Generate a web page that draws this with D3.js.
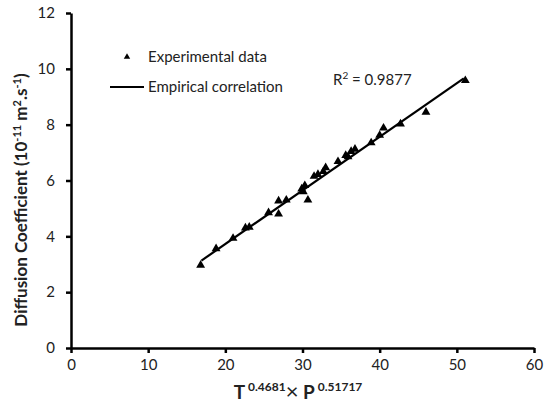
<!DOCTYPE html>
<html>
<head>
<meta charset="utf-8">
<script src="https://cdn.jsdelivr.net/npm/d3@7"></script>
<style>
  body { margin: 0; background: #fff; }
  svg { display: block; }
  .axis text { font-family: Lato, "Open Sans", sans-serif; font-size: 15px; fill: #222; }
  .axis path, .axis line { stroke: #000; stroke-width: 2.5px; }
  .lbl { font-family: Lato, "Open Sans", sans-serif; fill: #222; }
</style>
</head>
<body>
<svg width="550" height="406"></svg>
<script>
// experimental points
let xVals = [16.8, 18.8, 21.0, 22.6, 23.1, 25.6, 26.9, 26.9, 27.9, 29.9, 30.1, 30.3, 30.7,
             31.5, 32.0, 32.7, 33.0, 34.6, 35.6, 35.9, 36.3, 36.8, 38.9, 40.0, 40.5, 42.7, 46.0, 51.1];
let yVals = [2.97, 3.56, 3.93, 4.30, 4.33, 4.85, 4.80, 5.27, 5.30, 5.70, 5.60, 5.82, 5.30,
             6.15, 6.22, 6.32, 6.46, 6.68, 6.90, 6.85, 7.04, 7.12, 7.35, 7.62, 7.88, 8.03, 8.45, 9.58];

// empirical correlation line end points
let fitX = [16.9, 50.9];
let fitY = [3.13, 9.66];

let xTicks = [0, 10, 20, 30, 40, 50, 60];
let yTicks = [0, 2, 4, 6, 8, 10, 12];

let svg = d3.select('svg');
let x = d3.scaleLinear().domain([0, 60]).range([71, 534]);
let y = d3.scaleLinear().domain([0, 12]).range([348, 13]);

// axes
svg.append('g').attr('class', 'axis')
  .attr('transform', 'translate(0,348)')
  .call(d3.axisBottom(x).tickValues(xTicks).tickSize(5).tickSizeOuter(0).tickPadding(6));

svg.append('g').attr('class', 'axis')
  .attr('transform', 'translate(71,0)')
  .call(d3.axisLeft(y).tickValues(yTicks).tickSize(5).tickSizeOuter(0).tickPadding(11));

// fit line
svg.append('line')
  .attr('x1', x(fitX[0])).attr('y1', y(fitY[0]))
  .attr('x2', x(fitX[1])).attr('y2', y(fitY[1]))
  .attr('stroke', '#000').attr('stroke-width', 2.2);

// points
let tri = d3.symbol().type(d3.symbolTriangle).size(34);
svg.selectAll('path.pt').data(xVals).enter().append('path')
  .attr('class', 'pt')
  .attr('d', tri)
  .attr('transform', function(d, i) {
    return 'translate(' + x(d) + ',' + y(yVals[i]) + ')';
  })
  .attr('fill', '#000');

// legend
svg.append('path').attr('d', d3.symbol().type(d3.symbolTriangle).size(18))
  .attr('transform', 'translate(127,57)').attr('fill', '#000');
svg.append('text').attr('class', 'lbl').attr('x', 148).attr('y', 62)
  .style('font-size', '15px').text('Experimental data');
svg.append('line').attr('x1', 110).attr('x2', 144).attr('y1', 87).attr('y2', 87)
  .attr('stroke', '#000').attr('stroke-width', 2.2);
svg.append('text').attr('class', 'lbl').attr('x', 148).attr('y', 92)
  .style('font-size', '15px').text('Empirical correlation');

// R squared
let r2 = svg.append('text').attr('class', 'lbl').attr('x', 333).attr('y', 85)
  .style('font-size', '15px');
r2.append('tspan').text('R');
r2.append('tspan').attr('dy', -6).style('font-size', '10px').text('2');
r2.append('tspan').attr('dy', 6).text(' = 0.9877');

// x title
let xt = svg.append('text').attr('class', 'lbl')
  .attr('x', 298).attr('y', 399).attr('text-anchor', 'middle')
  .style('font-weight', 'bold').style('font-size', '19px');
xt.append('tspan').text('T');
xt.append('tspan').attr('dy', -8).style('font-size', '12px').text(' 0.4681');
xt.append('tspan').attr('dy', 8).style('font-weight', 'normal').style('font-size', '22px').text('\u00d7');
xt.append('tspan').text(' P');
xt.append('tspan').attr('dy', -8).style('font-size', '12px').text(' 0.51717');

// y title
let yt = svg.append('text').attr('class', 'lbl')
  .attr('transform', 'translate(27,200) rotate(-90)').attr('text-anchor', 'middle')
  .style('font-weight', 'bold').style('font-size', '17px');
yt.append('tspan').text('Diffusion Coefficient (10');
yt.append('tspan').attr('dy', -6).style('font-size', '11px').text('-11');
yt.append('tspan').attr('dy', 6).text(' m');
yt.append('tspan').attr('dy', -6).style('font-size', '11px').text('2');
yt.append('tspan').attr('dy', 6).text('.s');
yt.append('tspan').attr('dy', -6).style('font-size', '11px').text('-1');
yt.append('tspan').attr('dy', 6).text(')');
</script>
</body>
</html>
